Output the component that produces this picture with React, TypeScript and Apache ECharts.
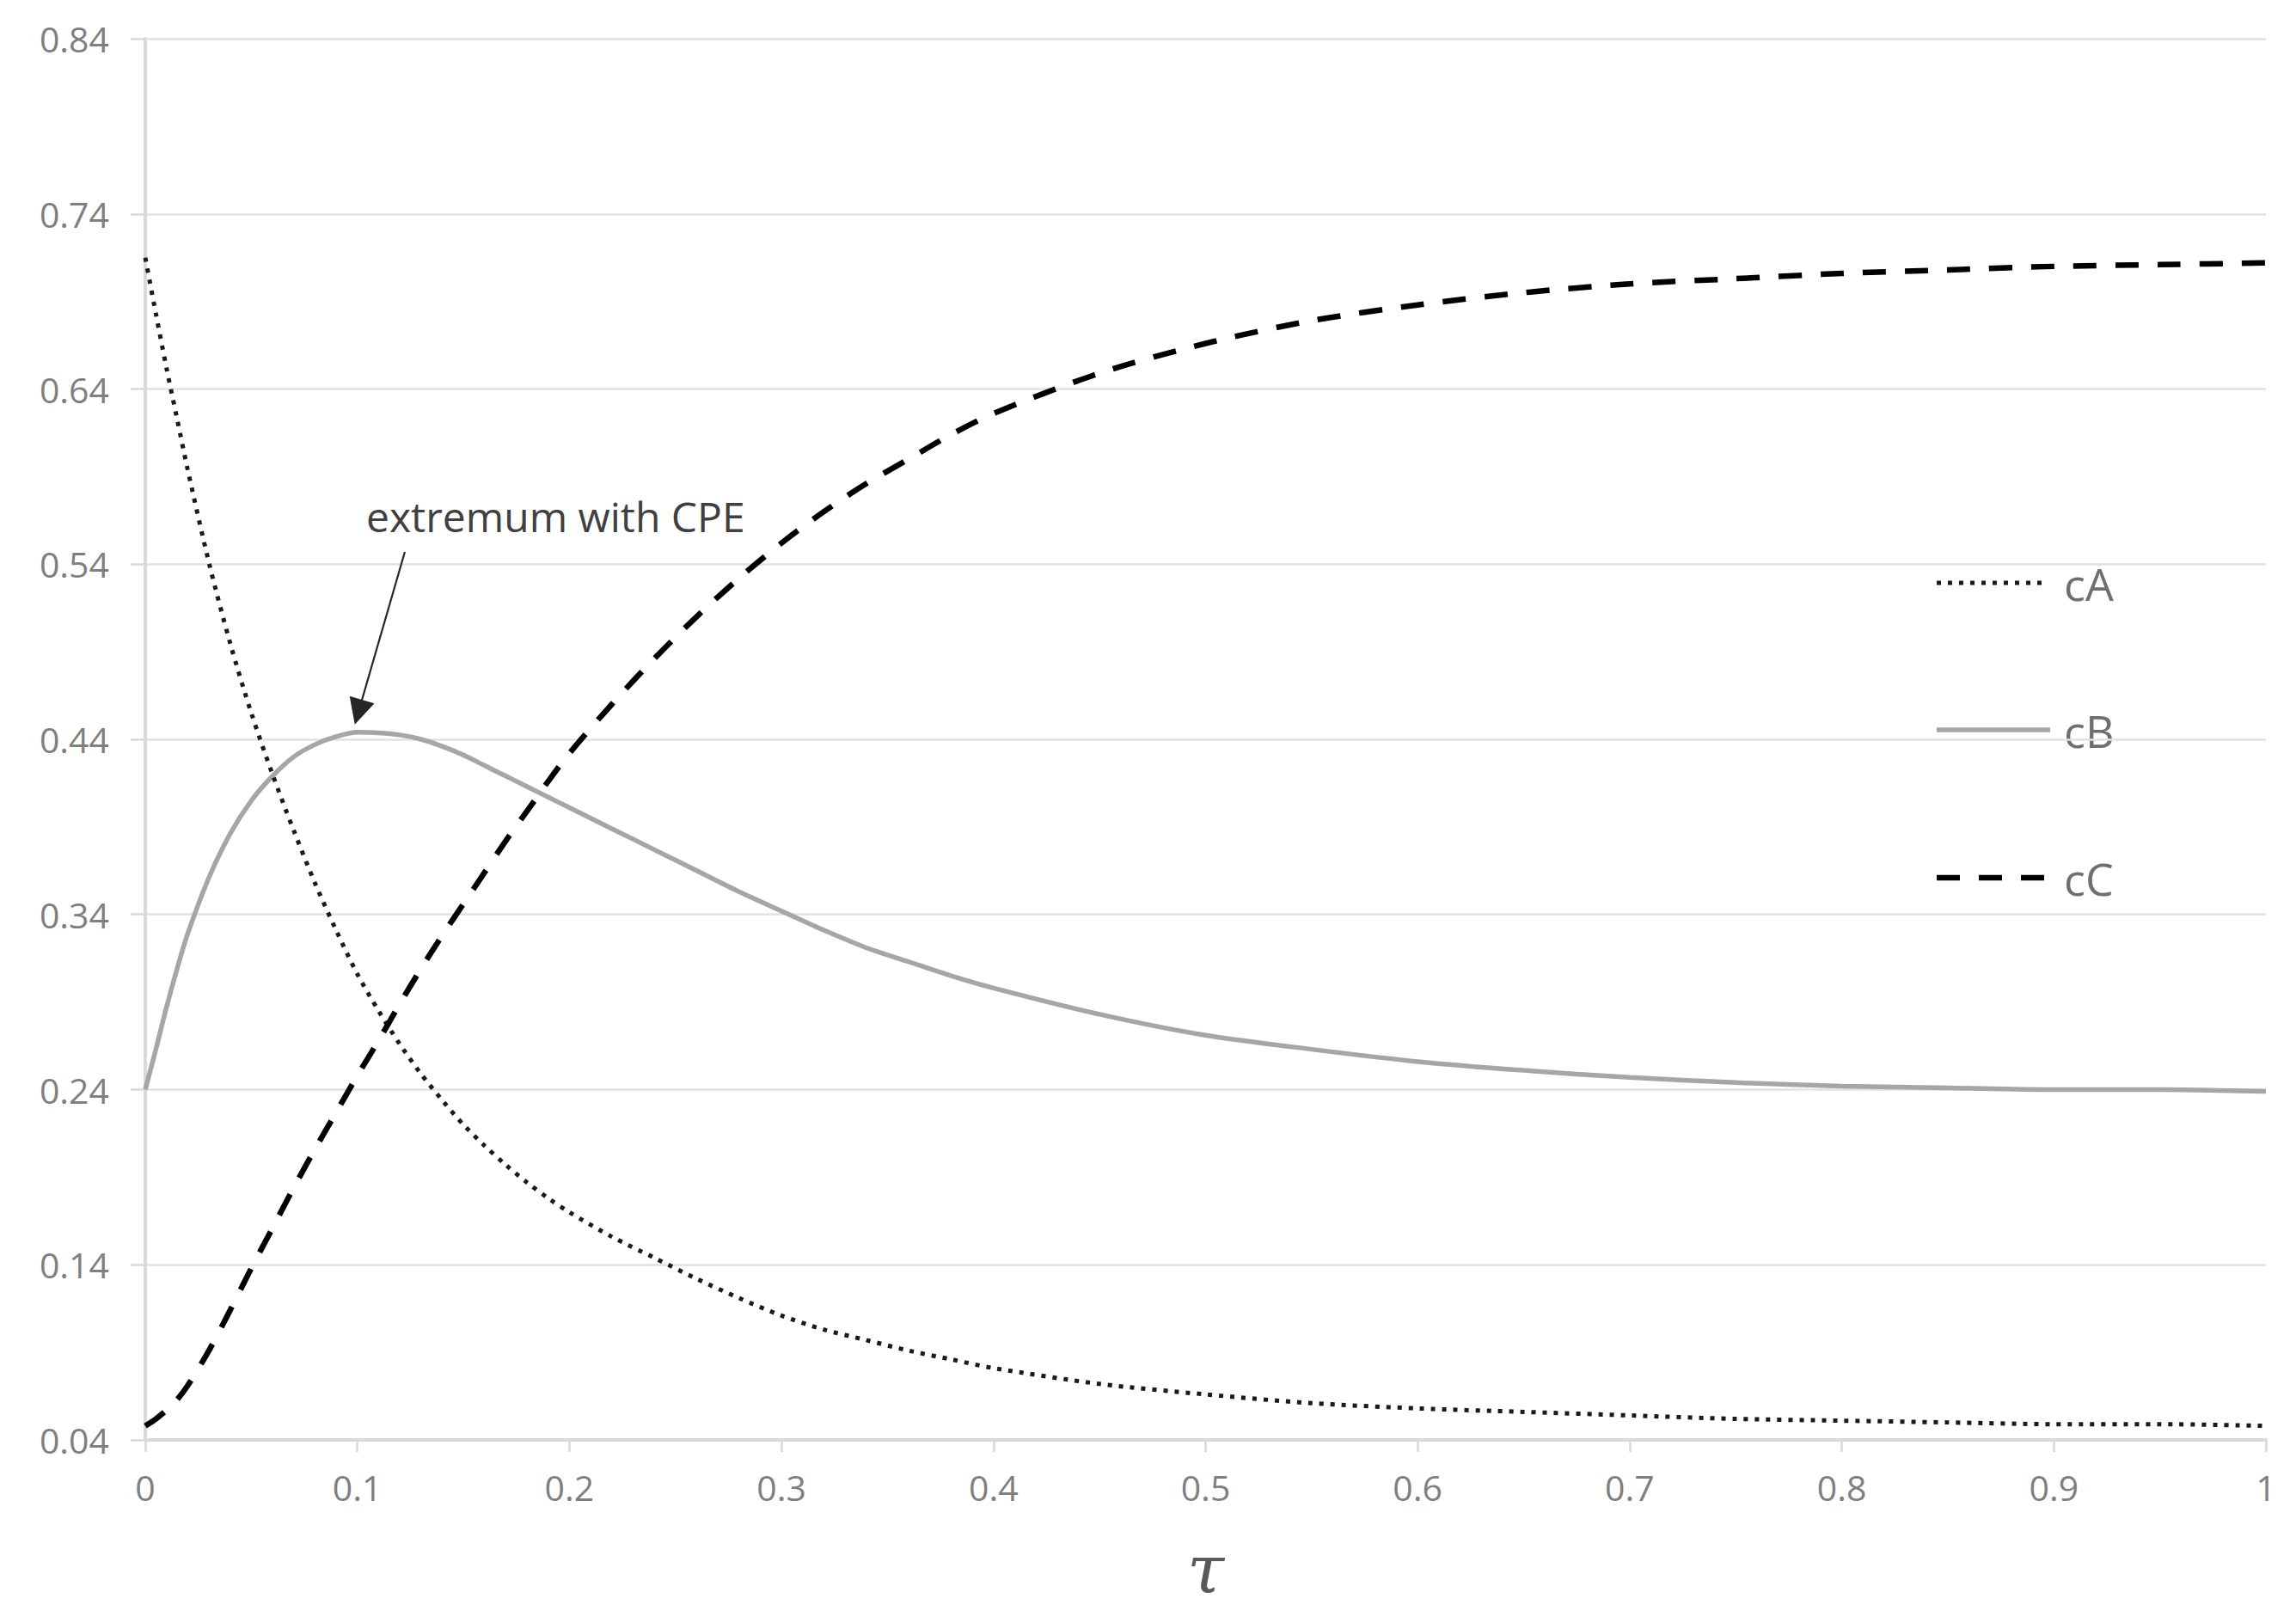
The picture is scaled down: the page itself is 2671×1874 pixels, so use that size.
import React, { useEffect, useRef } from "react";
import * as echarts from "echarts";

const tau = [0, 0.005, 0.01, 0.015, 0.02, 0.03, 0.04, 0.05, 0.06, 0.07, 0.08, 0.09, 0.1, 0.11, 0.12, 0.13, 0.14, 0.15, 0.16, 0.17, 0.18, 0.19, 0.2, 0.22, 0.24, 0.26, 0.28, 0.3, 0.32, 0.34, 0.36, 0.38, 0.4, 0.45, 0.5, 0.55, 0.6, 0.65, 0.7, 0.75, 0.8, 0.85, 0.9, 0.95, 1.0];
const cA = [0.715, 0.683, 0.652, 0.623, 0.594, 0.541, 0.495, 0.455, 0.42, 0.388, 0.358, 0.331, 0.306, 0.285, 0.266, 0.249, 0.234, 0.22, 0.208, 0.197, 0.187, 0.178, 0.17, 0.156, 0.144, 0.132, 0.121, 0.111, 0.103, 0.097, 0.091, 0.086, 0.081, 0.072, 0.066, 0.061, 0.058, 0.056, 0.054, 0.052, 0.051, 0.05, 0.049, 0.049, 0.048];
const cB = [0.24, 0.263, 0.287, 0.309, 0.329, 0.361, 0.386, 0.405, 0.419, 0.43, 0.437, 0.4415, 0.444, 0.4437, 0.4425, 0.44, 0.436, 0.431, 0.425, 0.419, 0.413, 0.407, 0.401, 0.389, 0.377, 0.365, 0.353, 0.342, 0.331, 0.321, 0.313, 0.305, 0.298, 0.283, 0.271, 0.263, 0.256, 0.251, 0.247, 0.244, 0.242, 0.241, 0.24, 0.24, 0.239];
const cC = [0.048, 0.052, 0.057, 0.063, 0.071, 0.091, 0.114, 0.138, 0.161, 0.184, 0.206, 0.227, 0.248, 0.268, 0.289, 0.309, 0.328, 0.346, 0.364, 0.382, 0.399, 0.416, 0.432, 0.46, 0.486, 0.51, 0.532, 0.552, 0.57, 0.586, 0.6, 0.614, 0.626, 0.649, 0.666, 0.679, 0.688, 0.695, 0.7, 0.703, 0.706, 0.708, 0.71, 0.711, 0.712];

const seriesNames = ["cA", "cB", "cC"];
const annotationText = "extremum with CPE";
const arrowFrom = [0.1224, 0.547];
const arrowTo = [0.1005, 0.4555];
const xTitle = "τ";

const pairs = (ys: number[]) => tau.map((t, i) => [t, ys[i]]);

const styleA = { color: "#1a1a1a", width: 5, dash: [5, 8] as number[] | null };
const styleB = { color: "#a6a6a6", width: 5.5, dash: null as number[] | null };
const styleC = { color: "#000000", width: 6.5, dash: [27, 22] as number[] | null };
const lineStyles = [styleA, styleB, styleC];

export default function App() {
  const ref = useRef<HTMLDivElement>(null);
  useEffect(() => {
    document.body.style.margin = "0";
    const chart = echarts.init(ref.current!, undefined, { renderer: "svg" });
    const font = "'Open Sans', sans-serif";
    const legendRows = [678, 849, 1021];
    const legendGraphics: any[] = [];
    seriesNames.forEach((n, i) => {
      const s = lineStyles[i];
      legendGraphics.push({
        type: "line",
        shape: { x1: 2253, y1: legendRows[i], x2: i === 1 ? 2385 : 2378, y2: legendRows[i] },
        style: { stroke: s.color, lineWidth: s.width, lineDash: s.dash || undefined },
        silent: true,
      });
      legendGraphics.push({
        type: "text",
        x: 2401,
        y: legendRows[i],
        style: { text: n, fontSize: 52, fontFamily: font, fill: "#6f6f6f", textAlign: "left", textVerticalAlign: "middle" },
        silent: true,
      });
    });
    const mkSeries = (i: number, data: number[], z: number, extra: any = {}) => ({
      name: seriesNames[i],
      type: "line",
      data: pairs(data),
      smooth: 0.3,
      showSymbol: false,
      symbol: "none",
      lineStyle: { color: lineStyles[i].color, width: lineStyles[i].width, type: lineStyles[i].dash || "solid" },
      itemStyle: { color: lineStyles[i].color },
      z,
      ...extra,
    });
    chart.setOption({
      animation: false,
      backgroundColor: "#ffffff",
      grid: { left: 169, right: 35, top: 45, bottom: 199 },
      xAxis: {
        type: "value",
        min: 0,
        max: 1,
        interval: 0.1,
        name: xTitle,
        nameLocation: "middle",
        nameGap: 112,
        nameTextStyle: { fontFamily: "'DejaVu Serif', serif", fontStyle: "italic", fontSize: 78, color: "#595959" },
        axisLine: { show: true, lineStyle: { color: "#d9d9d9", width: 4 } },
        axisTick: { show: true, length: 14, lineStyle: { color: "#d9d9d9", width: 2.5 } },
        axisLabel: { margin: 34, fontSize: 41, color: "#7f7f7f", fontFamily: font, formatter: (v: number) => String(Math.round(v * 10) / 10) },
        splitLine: { show: false },
      },
      yAxis: {
        type: "value",
        min: 0.04,
        max: 0.84,
        interval: 0.1,
        axisLine: { show: true, lineStyle: { color: "#d9d9d9", width: 4 } },
        axisTick: { show: true, length: 17, lineStyle: { color: "#d9d9d9", width: 2.5 } },
        axisLabel: { margin: 42, fontSize: 41, color: "#7f7f7f", fontFamily: font, formatter: (v: number) => v.toFixed(2) },
        splitLine: { show: true, lineStyle: { color: "#e2e2e2", width: 2.5 } },
      },
      series: [
        mkSeries(0, cA, 3),
        mkSeries(1, cB, 2, {
          markLine: {
            silent: true,
            symbol: ["none", "triangle"],
            symbolSize: 30,
            label: { show: false },
            lineStyle: { color: "#262626", width: 2.2, type: "solid" },
            data: [[{ coord: arrowFrom }, { coord: arrowTo }]],
          },
        }),
        mkSeries(2, cC, 4),
      ],
      graphic: [
        {
          type: "text",
          x: 426,
          y: 600,
          style: {
            text: annotationText,
            fontSize: 48,
            fontFamily: font,
            fill: "#404040",
            textAlign: "left",
            textVerticalAlign: "middle",
          },
        },
        ...legendGraphics,
      ],
    });
    return () => chart.dispose();
  }, []);
  return <div ref={ref} style={{ width: 2671, height: 1874, background: "#fff" }} />;
}
